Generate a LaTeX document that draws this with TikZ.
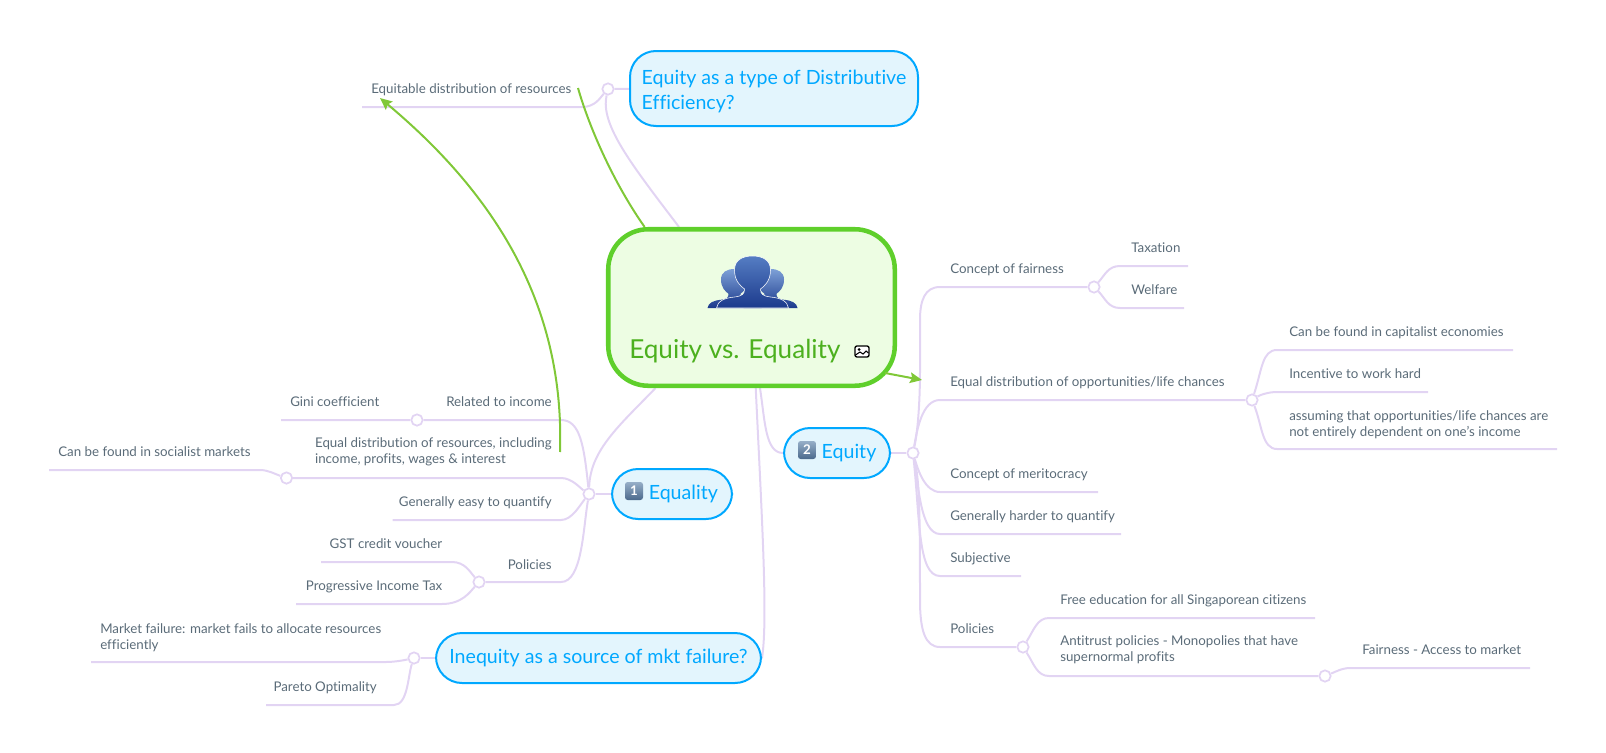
\documentclass[tikz,border=0pt]{standalone}
\usepackage{fontspec}
\setmainfont{Lato}[Ligatures=NoCommon]
\usetikzlibrary{arrows.meta,backgrounds}
\definecolor{branchcol}{RGB}{226,212,243}
\definecolor{labelcol}{RGB}{90,107,120}
\definecolor{relcol}{RGB}{128,200,56}
\definecolor{rootfill}{RGB}{237,253,227}
\definecolor{rootline}{RGB}{95,207,43}
\definecolor{roottext}{RGB}{76,176,30}
\definecolor{topicfill}{RGB}{227,245,253}
\definecolor{topicline}{RGB}{0,168,255}
\definecolor{capTop}{RGB}{150,175,200}
\definecolor{capBot}{RGB}{75,105,140}
\definecolor{iconTop}{RGB}{125,160,215}
\definecolor{iconMid}{RGB}{85,125,195}
\definecolor{iconBot}{RGB}{28,58,140}
\tikzset{
  rootbox/.style={draw=rootline,fill=rootfill,line width=3.4pt,rounded corners=30pt,minimum width=214.9pt,minimum height=117.4pt,inner sep=0pt},
  topicbox/.style={draw=topicline,fill=topicfill,line width=1.5pt,rounded corners=19.5pt,inner sep=0pt,text=topicline,font=\fontsize{14.7}{18.75}\selectfont},
  keycap/.style={rounded corners=2pt,top color=capTop,bottom color=capBot,minimum size=13.5pt,inner sep=0pt,text=white,font=\fontsize{10}{10}\selectfont\bfseries},
  lbl/.style={inner sep=0pt,text=labelcol,font=\fontsize{10}{12}\selectfont},
  lblr/.style={lbl,anchor=mid east},
  lbll/.style={lbl,anchor=mid west},
  jun/.style={circle,draw=branchcol,fill=white,line width=1.3pt,minimum size=8.5pt,inner sep=0pt},
  branch/.style={draw=branchcol,line width=1.5pt},
  rel/.style={draw=relcol,line width=1.5pt},
  relarrow/.style={rel,-{Stealth[length=9pt,width=8pt,inset=1.5pt]}},
  person/.pic={
    \path[pic actions,yscale=-1] (-8,33) .. controls (-12,30) and (-18,25) .. (-18,14) .. controls (-18,4) and (-10,0) .. (0,0) .. controls (10,0) and (18,4) .. (18,14) .. controls (18,25) and (12,30) .. (8,33) .. controls (8,38) and (10,40) .. (18,41) .. controls (28,42) and (35,45) .. (36,52) -- (-36,52) .. controls (-35,45) and (-28,42) .. (-18,41) .. controls (-10,40) and (-8,38) .. (-8,33) -- cycle;
  }
}
\begin{document}
\begin{tikzpicture}[x=0.75pt,y=0.75pt,yscale=-1,xscale=1]
\useasboundingbox (0,0) rectangle (1606,753);
%Root topic
\node[rootbox] (central) at (751.5,307.5) {};
\node[anchor=mid west,inner sep=0pt,text=roottext,font=\fontsize{19.6}{23}\selectfont] (rootLabel) at (629,355) {Equity vs. Equality};
\path pic[top color=iconTop,bottom color=iconBot,scale=0.75] at (734.5,269) {person};
\path pic[top color=iconTop,bottom color=iconBot,scale=0.75] at (770.5,269) {person};
\path pic[draw=white,line width=0.4pt,top color=iconMid,bottom color=iconBot] at (752.5,256) {person};
%Image marker
\draw[line width=1pt,rounded corners=1.5pt,fill=white] (855,346) rectangle (869,357);
\fill (859,349.5) circle (1.5);
\draw[line width=0.8pt] (855.5,355) -- (860,352) -- (863,354) -- (866,351) -- (868.5,353);
%Main topics
\node[topicbox,minimum width=216pt,minimum height=56.25pt,align=left] (distEff) at (774,88.5) {\rule{0pt}{15.5pt}Equity as a type of Distributive\\Efficiency?};
\node[topicbox,minimum width=90pt,minimum height=37.5pt] (equality) at (672,494) {\hspace{17pt}Equality};
\node[topicbox,minimum width=79.5pt,minimum height=37.5pt] (equity) at (837,453) {\hspace{18pt}Equity};
\node[topicbox,minimum width=243.75pt,minimum height=37.5pt] (inequity) at (598.5,658) {Inequity as a source of mkt failure?};
\node[keycap] (capOne) at (634,491) {1};
\node[keycap] (capTwo) at (807,450) {2};
%Junctions
\node[jun] (junResources) at (608,89) {};
\node[jun] (junEquality) at (589,494) {};
\node[jun] (junRelated) at (417,420) {};
\node[jun] (junEqDist) at (286.5,478) {};
\node[jun] (junPolicies) at (479,582) {};
\node[jun] (junInequity) at (414,658) {};
\node[jun] (junEquity) at (913,453) {};
\node[jun] (junFairness) at (1094,287) {};
\node[jun] (junOpp) at (1252,400) {};
\node[jun] (junPolR) at (1023,647) {};
\node[jun] (junAnti) at (1325,676) {};
%Labels, left
\node[lbll] (lblResources) at (371,90) {Equitable distribution of resources};
\node[lbll] (lblGini) at (290,403) {Gini coefficient};
\node[lblr] (lblRelated) at (552,403) {Related to income};
\node[lbl,anchor=east,align=left] (lblEqDist) at (552,452) {Equal distribution of resources, including\\income, profits, wages \& interest};
\node[lbll] (lblSocialist) at (58,453) {Can be found in socialist markets};
\node[lblr] (lblEasy) at (552,503) {Generally easy to quantify};
\node[lblr] (lblPolicies) at (552,566) {Policies};
\node[lblr] (lblGst) at (442.5,545) {GST credit voucher};
\node[lblr] (lblProg) at (442.5,587) {Progressive Income Tax};
\node[lbl,anchor=west,align=left] (lblMarket) at (100,638) {Market failure: market fails to allocate resources\\efficiently};
\node[lblr] (lblPareto) at (377,688) {Pareto Optimality};
%Labels, right
\node[lbll] (lblFairness) at (950,270) {Concept of fairness};
\node[lbll] (lblTax) at (1131,249) {Taxation};
\node[lbll] (lblWelfare) at (1131,291) {Welfare};
\node[lbll] (lblOpp) at (950,383) {Equal distribution of opportunities/life chances};
\node[lbll] (lblCapitalist) at (1289,333) {Can be found in capitalist economies};
\node[lbll] (lblHard) at (1289,375) {Incentive to work hard};
\node[lbl,anchor=west,align=left] (lblAssume) at (1289,424.5) {assuming that opportunities/life chances are\\not entirely dependent on one's income};
\node[lbll] (lblMerit) at (950,475) {Concept of meritocracy};
\node[lbll] (lblHarder) at (950,517) {Generally harder to quantify};
\node[lbll] (lblSubj) at (950,559) {Subjective};
\node[lbll] (lblPolR) at (950,630) {Policies};
\node[lbll] (lblFree) at (1060,601) {Free education for all Singaporean citizens};
\node[lbl,anchor=west,align=left] (lblAnti) at (1060,650) {Antitrust policies - Monopolies that have\\supernormal profits};
\node[lbll] (lblAccess) at (1362,651) {Fairness - Access to market};
%Free ends
\coordinate (endResources) at (362,107);
\coordinate (endGini) at (281,420);
\coordinate (endSocialist) at (49,470);
\coordinate (endEasy) at (392.5,520);
\coordinate (endGst) at (321,562);
\coordinate (endProg) at (296,604);
\coordinate (endMarket) at (91,662);
\coordinate (endPareto) at (266,705);
\coordinate (endTax) at (1188,266);
\coordinate (endWelfare) at (1184,308);
\coordinate (endCapitalist) at (1513,350);
\coordinate (endHard) at (1428,392);
\coordinate (endAssume) at (1557,449);
\coordinate (endMerit) at (1098,492);
\coordinate (endHarder) at (1121,534);
\coordinate (endSubj) at (1021,576);
\coordinate (endFree) at (1315,618);
\coordinate (endAccess) at (1530,668);
\begin{scope}[on background layer]
%Root to main topics
\draw[branch] (central.132) .. controls (632,165) and (600,125) .. (junResources);
\draw[branch] (central.220) .. controls (620,425) and (590,450) .. (junEquality);
\draw[branch] (central.276) .. controls (765,420) and (765,453) .. (equity);
\draw[branch] (central.273) .. controls (762,520) and (768,620) .. (inequity.east);
\draw[branch] (distEff) -- (junResources);
\draw[branch] (equality) -- (junEquality);
\draw[branch] (equity) -- (junEquity);
\draw[branch] (inequity) -- (junInequity);
%Top branch
\draw[branch] (junResources) .. controls (600,98) and (595,107) .. (582,107) -- (endResources);
%Equality branches
\draw[branch] (junEquality) .. controls (584,445) and (580,420) .. (561,420) -- (junRelated) -- (endGini);
\draw[branch] (junEquality) .. controls (580,488) and (572,478) .. (561,478) -- (junEqDist);
\draw[branch] (junEqDist) .. controls (275,474) and (268,470) .. (260,470) -- (endSocialist);
\draw[branch] (junEquality) .. controls (580,505) and (572,520) .. (561,520) -- (endEasy);
\draw[branch] (junEquality) .. controls (583,530) and (582,582) .. (561,582) -- (junPolicies);
\draw[branch] (junPolicies) .. controls (470,572) and (465,562) .. (452,562) -- (endGst);
\draw[branch] (junPolicies) .. controls (470,592) and (462,604) .. (442,604) -- (endProg);
%Inequity branches
\draw[branch] (junInequity) .. controls (405,660) and (395,662) .. (386,662) -- (endMarket);
\draw[branch] (junInequity) .. controls (408,675) and (408,705) .. (394,705) -- (endPareto);
%Equity branches
\draw[branch] (junEquity) .. controls (918,430) and (920,400) .. (920,370) -- (920,320) .. controls (920,300) and (925,287) .. (940,287) -- (junFairness);
\draw[branch] (junFairness) .. controls (1105,275) and (1108,266) .. (1120,266) -- (endTax);
\draw[branch] (junFairness) .. controls (1105,298) and (1108,308) .. (1120,308) -- (endWelfare);
\draw[branch] (junEquity) .. controls (917,430) and (922,400) .. (940,400) -- (junOpp);
\draw[branch] (junOpp) .. controls (1262,370) and (1262,350) .. (1277,350) -- (endCapitalist);
\draw[branch] (junOpp) .. controls (1260,395) and (1268,392) .. (1277,392) -- (endHard);
\draw[branch] (junOpp) .. controls (1262,425) and (1262,449) .. (1277,449) -- (endAssume);
\draw[branch] (junEquity) .. controls (918,470) and (925,492) .. (940,492) -- (endMerit);
\draw[branch] (junEquity) .. controls (918,480) and (920,534) .. (940,534) -- (endHarder);
\draw[branch] (junEquity) .. controls (920,520) and (918,576) .. (940,576) -- (endSubj);
\draw[branch] (junEquity) .. controls (919,480) and (920,500) .. (920,600) .. controls (920,630) and (925,647) .. (940,647) -- (junPolR);
\draw[branch] (junPolR) .. controls (1034,630) and (1037,618) .. (1049,618) -- (endFree);
\draw[branch] (junPolR) .. controls (1034,664) and (1037,676) .. (1049,676) -- (junAnti);
\draw[branch] (junAnti) .. controls (1335,672) and (1342,668) .. (1350,668) -- (endAccess);
\end{scope}
%Relationships
\coordinate (relTop) at (578,88);
\coordinate (relSide) at (560,452);
\coordinate (relRight) at (885,373);
\coordinate (tipResources) at (380,98);
\coordinate (tipOpp) at (922,380);
\draw[rel] (central.143) .. controls (615,185) and (590,130) .. (relTop);
\draw[relarrow] (relSide) .. controls (565,300) and (490,190) .. (tipResources);
\draw[relarrow] (relRight) -- (tipOpp);
\end{tikzpicture}
\end{document}
